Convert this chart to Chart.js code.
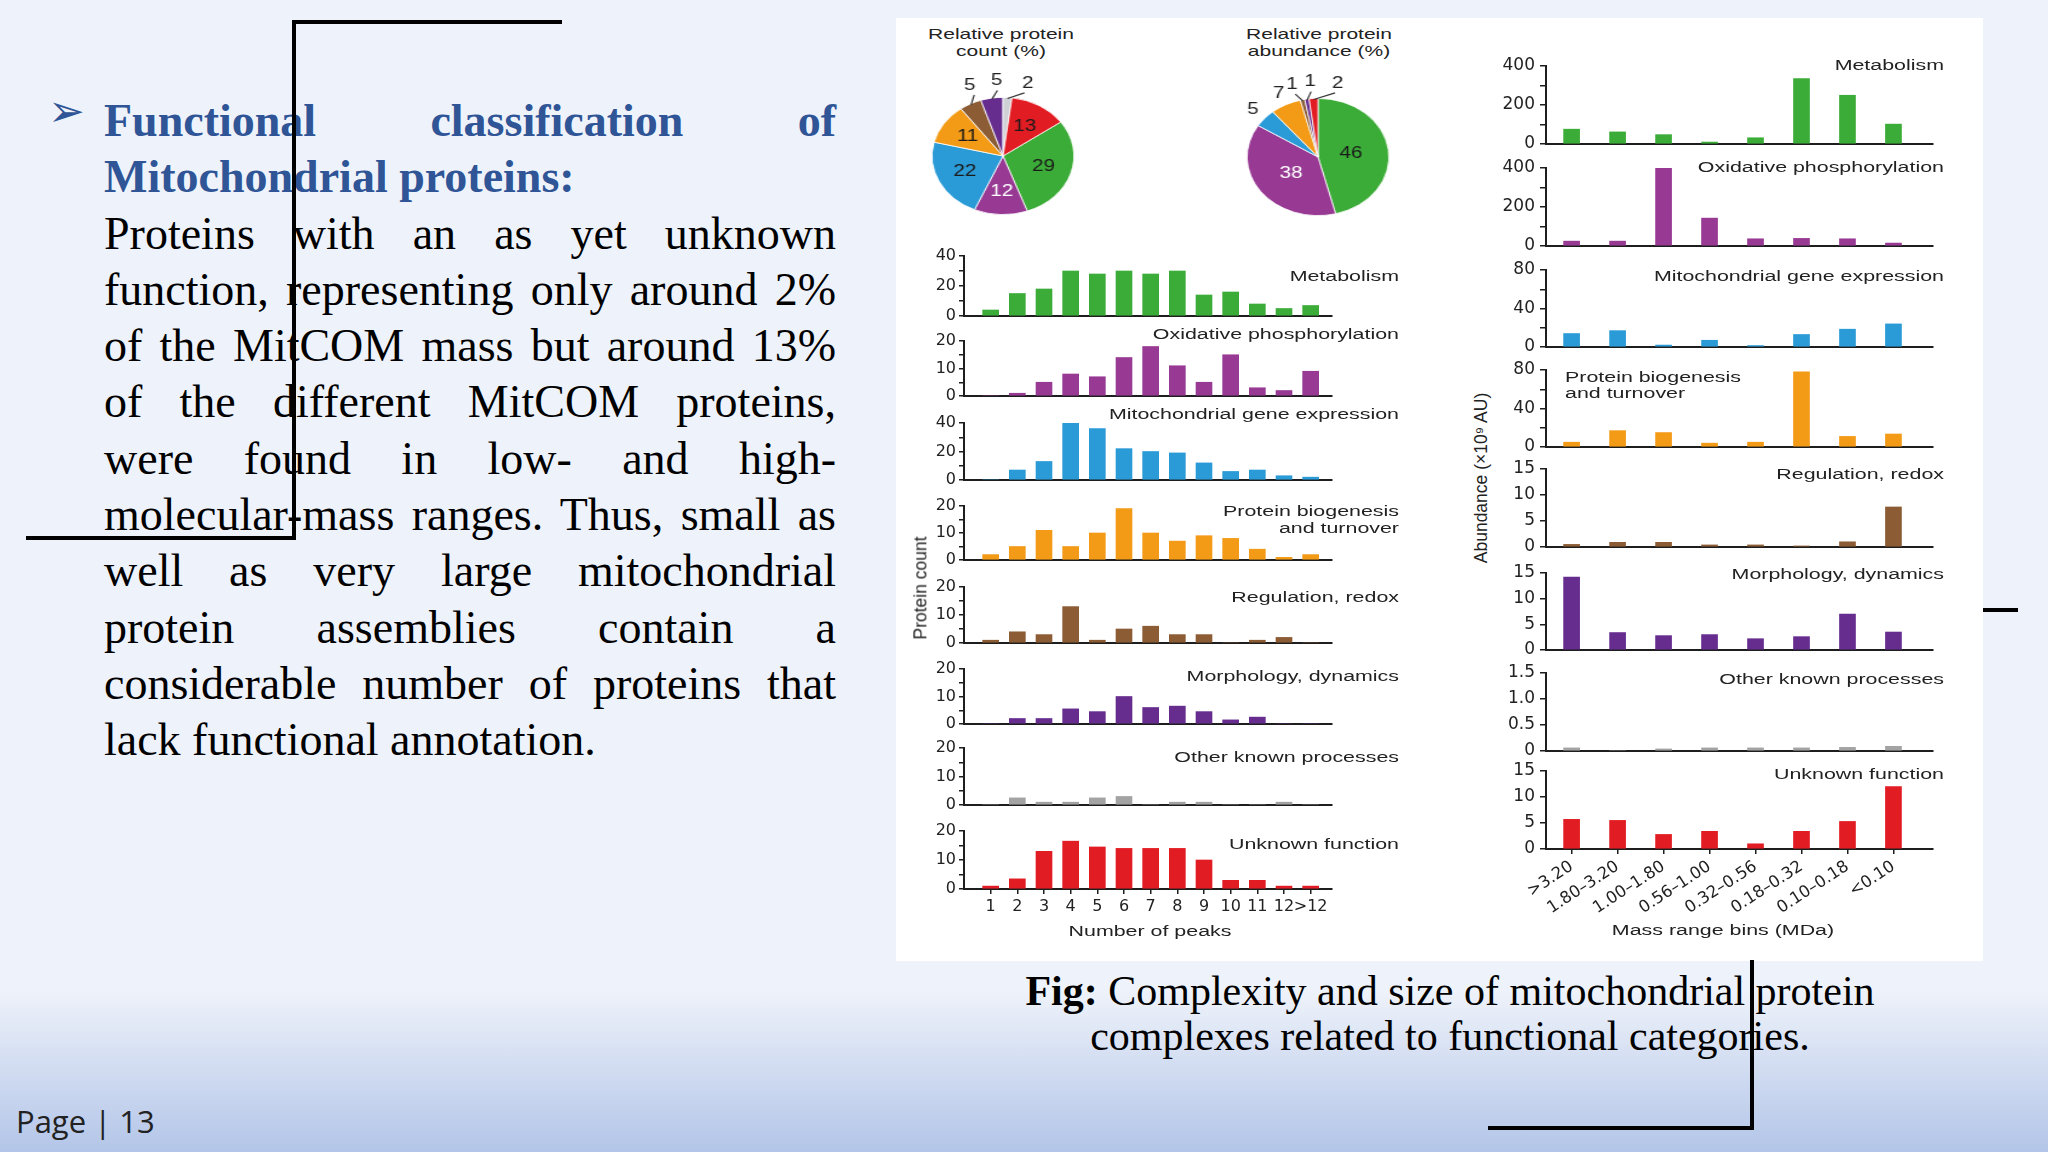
<!DOCTYPE html>
<html>
<head>
<meta charset="utf-8">
<script src="https://cdn.jsdelivr.net/npm/chart.js@4.4.1/dist/chart.umd.min.js"></script>
<style>
  html, body { margin: 0; padding: 0; }
  #stage {
    position: relative; width: 2048px; height: 1152px; overflow: hidden;
    background: linear-gradient(to bottom, #eef2fa 0%, #eef2fa 86%, #b3c5e8 100%);
  }
  #panel { position: absolute; left: 896px; top: 18px; width: 1087px; height: 943px; background: #fff; }
  #stage canvas { position: absolute; }
  .lbl { position: absolute; white-space: pre; font-family: "Liberation Sans", Arial, sans-serif; color: #222; }
  .body { position: absolute; left: 104px; top: 93px; width: 732px; font-family: "Liberation Serif", serif; font-size: 46px; line-height: 56.3px; color: #000; }
  .body div { white-space: nowrap; }
  .body .j { text-align: justify; text-align-last: justify; white-space: normal; }
  .body .h { color: #2f5597; font-weight: bold; }
  .rule { position: absolute; background: #000; z-index: 5; }
</style>
</head>
<body>
<div id="stage">
  <div id="panel"></div>

  <div style="position:absolute;left:48px;top:86px;font-family:'DejaVu Sans';font-size:44px;line-height:50px;color:#2f5597;">➢</div>
  <div class="body">
    <div class="j h">Functional classification of</div>
    <div class="h">Mitochondrial proteins:</div>
    <div class="j">Proteins with an as yet unknown</div>
    <div class="j">function, representing only around 2%</div>
    <div class="j">of the MitCOM mass but around 13%</div>
    <div class="j">of the different MitCOM proteins,</div>
    <div class="j">were found in low- and high-</div>
    <div class="j">molecular-mass ranges. Thus, small as</div>
    <div class="j">well as very large mitochondrial</div>
    <div class="j">protein assemblies contain a</div>
    <div class="j">considerable number of proteins that</div>
    <div>lack functional annotation.</div>
  </div>

  <div style="position:absolute;left:1000px;top:969px;width:900px;text-align:center;font-family:'Liberation Serif',serif;font-size:42px;line-height:45px;color:#000;">
    <div><b>Fig:</b> Complexity and size of mitochondrial protein</div>
    <div>complexes related to functional categories.</div>
  </div>

  <div style="position:absolute;left:16px;top:1106px;font-family:'Open Sans',sans-serif;font-size:31px;line-height:31px;color:#222;">Page | 13</div>

  <div class="rule" style="left:292px;top:20px;width:270px;height:4px;"></div>
  <div class="rule" style="left:292px;top:20px;width:4px;height:520px;"></div>
  <div class="rule" style="left:26px;top:536px;width:270px;height:4px;"></div>
  <div class="rule" style="left:1983px;top:608px;width:35px;height:4px;"></div>
  <div class="rule" style="left:1750px;top:960px;width:4px;height:170px;"></div>
  <div class="rule" style="left:1488px;top:1126px;width:266px;height:4px;"></div>
</div>

<script>
// ---- data ----
const peakLabels = ['1', '2', '3', '4', '5', '6', '7', '8', '9', '10', '11', '12', '>12'];
const massLabels = ['>3.20', '1.80–3.20', '1.00–1.80', '0.56–1.00', '0.32–0.56', '0.18–0.32', '0.10–0.18', '<0.10'];
const categories = ['Metabolism', 'Oxidative phosphorylation', 'Mitochondrial gene expression',
  'Protein biogenesis\nand turnover', 'Regulation, redox', 'Morphology, dynamics',
  'Other known processes', 'Unknown function'];

// relative protein count / abundance (%), same order as categories
const countShare = [29, 12, 22, 11, 5, 5, 2, 13];
const abundanceShare = [46, 38, 5, 7, 1, 1, 0, 2];

// protein count per number of peaks
const peaksMetabolism = [4, 15, 18, 30, 28, 30, 28, 30, 14, 16, 8, 5, 7];
const peaksOxphos = [0, 1, 5, 8, 7, 14, 18, 11, 5, 15, 3, 2, 9];
const peaksGeneExpr = [0, 7, 13, 40, 36, 22, 20, 19, 12, 6, 7, 3, 2];
const peaksBiogenesis = [2, 5, 11, 5, 10, 19, 10, 7, 9, 8, 4, 1, 2];
const peaksRegulation = [1, 4, 3, 13, 1, 5, 6, 3, 3, 0, 1, 2, 0];
const peaksMorphology = [0, 2, 2, 5.5, 4.5, 10, 6, 6.5, 4.5, 1.5, 2.5, 0, 0];
const peaksOther = [0, 2.5, 1, 1, 2.5, 3, 0, 1, 1, 0, 0, 1, 0];
const peaksUnknown = [1, 3.5, 13, 16.5, 14.5, 14, 14, 14, 10, 3, 3, 1, 1];

// abundance (x10^9 AU) per mass range bin
const massMetabolism = [76, 62, 48, 10, 32, 335, 250, 102];
const massOxphos = [25, 25, 412, 143, 37, 39, 37, 15];
const massGeneExpr = [14, 17, 2, 7, 1.5, 13, 18.5, 24];
const massBiogenesis = [5, 17, 15, 4, 5, 78, 11, 13.5];
const massRegulation = [0.5, 0.9, 0.9, 0.4, 0.4, 0.2, 1.0, 7.7];
const massMorphology = [14.2, 3.4, 2.8, 3.0, 2.2, 2.6, 7.0, 3.5];
const massOther = [0.06, 0, 0.04, 0.06, 0.06, 0.06, 0.07, 0.09];
const massUnknown = [5.7, 5.5, 2.8, 3.4, 1.0, 3.4, 5.3, 12.0];

// ---- styles ----
const catColors = ['#3cac38', '#983a94', '#2b9bd7', '#f39a17', '#8c5d35', '#662d8f', '#a3a3a3', '#e21c23'];
const pieColors = ['#3cac38', '#983a94', '#2b9bd7', '#f39a17', '#8c5d35', '#662d8f', '#cfcfd6', '#e21c23'];
const AXIS = '#1e1e1e';
const YW = 50;
const SX = 1.38;
const stage = document.getElementById('stage');

function label(text, x, y, align, size, opts = {}) {
  const d = document.createElement('div');
  d.className = 'lbl';
  d.textContent = text;
  d.style.left = x + 'px';
  d.style.top = y + 'px';
  d.style.fontSize = size + 'px';
  d.style.lineHeight = (opts.lh || size * 1.1) + 'px';
  d.style.textAlign = align;
  const sx = opts.sx === undefined ? SX : opts.sx;
  if (opts.rotate) {
    d.style.transform = 'translate(-50%,-50%) rotate(-90deg)';
  } else if (align === 'right') {
    d.style.transformOrigin = 'right center';
    d.style.transform = `translate(-100%,-50%) scaleX(${sx})`;
  } else if (align === 'left') {
    d.style.transformOrigin = 'left center';
    d.style.transform = `translate(0,-50%) scaleX(${sx})`;
  } else {
    d.style.transformOrigin = 'center center';
    d.style.transform = `translate(-50%,-50%) scaleX(${sx})`;
  }
  stage.appendChild(d);
}

function barChart(o) {
  const padTop = 10, padBottom = o.xLabels ? 0 : 9;
  const bottomH = o.xLabels ? o.bottomH : 0;
  const c = document.createElement('canvas');
  c.width = Math.round(o.right - o.axisX + YW + 3);
  c.height = Math.round(o.zero - o.top + padTop + padBottom + bottomH);
  c.style.left = (o.axisX - YW) + 'px';
  c.style.top = (o.top - padTop) + 'px';
  stage.appendChild(c);
  new Chart(c, {
    type: 'bar',
    data: {
      datasets: [{
        data: o.values.map((v, i) => ({ x: i + 1, y: v })),
        backgroundColor: o.color,
        borderWidth: 0,
        barThickness: o.barW
      }]
    },
    options: {
      responsive: false,
      animation: false,
      events: [],
      layout: { padding: { top: padTop, bottom: padBottom, left: 0, right: 3 } },
      plugins: { legend: { display: false }, tooltip: { enabled: false } },
      scales: {
        x: {
          type: 'linear', min: o.xMin, max: o.xMax, offset: false,
          // one tick per category, at the bar centres
          afterBuildTicks: s => { s.ticks = o.values.map((v, i) => ({ value: i + 1 })); },
          ticks: {
            display: !!o.xLabels, autoSkip: false,
            minRotation: o.rotate || 0, maxRotation: o.rotate || 0, padding: 3,
            color: '#222', font: { family: 'DejaVu Sans', size: o.xFont || 16 },
            callback: v => (o.xLabels ? o.xLabels[v - 1] : '')
          },
          grid: { display: !!o.xLabels, offset: false, drawOnChartArea: false, drawTicks: true, tickLength: 5, color: AXIS, lineWidth: 1.5 },
          border: { display: true, color: AXIS, width: 2 },
          afterFit: s => { s.height = bottomH; s.paddingLeft = 0; s.paddingRight = 0; }
        },
        y: {
          min: 0, max: o.yMax,
          ticks: {
            stepSize: o.yStep, autoSkip: false, padding: o.yPad || 3,
            color: '#222', font: { family: 'DejaVu Sans', size: o.yFont || 16 },
            callback: v => {
              const k = v / o.every;
              if (Math.abs(k - Math.round(k)) > 1e-6) return '';
              return o.fmt ? o.fmt(v) : String(v);
            }
          },
          grid: { drawOnChartArea: false, drawTicks: true, tickLength: o.yTick || 5, color: AXIS, lineWidth: 1.5 },
          border: { color: AXIS, width: 2 },
          afterFit: s => { s.width = YW; s.paddingTop = 0; s.paddingBottom = 0; }
        }
      }
    }
  });
}

// pie labels drawn from the arc elements
const pieLabels = {
  id: 'pieLabels',
  afterDatasetsDraw(chart, args, o) {
    const ctx = chart.ctx;
    const data = chart.data.datasets[0].data;
    chart.getDatasetMeta(0).data.forEach((arc, i) => {
      const v = data[i];
      if (!v) return;
      const p = arc.getProps(['x', 'y', 'startAngle', 'endAngle', 'outerRadius'], true);
      const mid = (p.startAngle + p.endAngle) / 2;
      ctx.save();
      ctx.font = '17px "Liberation Sans"';
      ctx.textAlign = 'center';
      ctx.textBaseline = 'middle';
      if (o.outside[i] !== undefined) {
        const a = mid + o.outside[i] * Math.PI / 180;
        if (o.leaders.includes(i)) {
          ctx.strokeStyle = '#333';
          ctx.lineWidth = 1.2;
          ctx.beginPath();
          ctx.moveTo(p.x + Math.cos(mid) * (p.outerRadius - 1), p.y + Math.sin(mid) * (p.outerRadius - 1));
          ctx.lineTo(p.x + Math.cos(a) * (p.outerRadius + 7), p.y + Math.sin(a) * (p.outerRadius + 7));
          ctx.stroke();
        }
        const r = p.outerRadius + (o.leaders.includes(i) ? 17 : 13);
        ctx.fillStyle = '#222';
        ctx.fillText(v, p.x + Math.cos(a) * r, p.y + Math.sin(a) * r);
      } else {
        const r = p.outerRadius * o.inside;
        ctx.fillStyle = o.light.includes(i) ? '#fff' : '#1a1a1a';
        ctx.fillText(v, p.x + Math.cos(mid) * r, p.y + Math.sin(mid) * r);
      }
      ctx.restore();
    });
  }
};

function pieChart(values, cx, cy, rotation, labelOpts) {
  const c = document.createElement('canvas');
  c.width = 180; c.height = 180;
  c.style.left = (cx - 90) + 'px';
  c.style.top = (cy - 90) + 'px';
  c.style.transformOrigin = 'center center';
  c.style.transform = 'scaleX(1.21)';
  stage.appendChild(c);
  new Chart(c, {
    type: 'pie',
    data: {
      labels: categories,
      datasets: [{ data: values, backgroundColor: pieColors, borderColor: '#fff', borderWidth: 0.8 }]
    },
    options: {
      responsive: false, animation: false, events: [],
      rotation: rotation,
      layout: { padding: 31 },
      plugins: { legend: { display: false }, tooltip: { enabled: false }, pieLabels: labelOpts }
    },
    plugins: [pieLabels]
  });
}

// ---- pies ----
const countTotal = countShare.reduce((a, b) => a + b, 0);
pieChart(countShare, 1003, 156, (countShare[6] + countShare[7]) / countTotal * 360,
  { inside: 0.6, light: [1], outside: { 4: 6, 5: 5, 6: 12 }, leaders: [4, 5, 6] });
pieChart(abundanceShare, 1318, 157, 0,
  { inside: 0.47, light: [1], outside: { 2: 0, 3: 0, 4: -4, 5: 4, 7: 16 }, leaders: [4, 5, 7] });

label('Relative protein\ncount (%)', 1001, 43, 'center', 15, { lh: 16.6, sx: 1.4 });
label('Relative protein\nabundance (%)', 1319, 43, 'center', 15, { lh: 16.6, sx: 1.4 });

// ---- left column: protein count vs number of peaks ----
const leftSeries = [peaksMetabolism, peaksOxphos, peaksGeneExpr, peaksBiogenesis, peaksRegulation, peaksMorphology, peaksOther, peaksUnknown];
const leftBoxes = [[255.7, 315.7, 40], [340.7, 395.7, 20], [423.3, 480.7, 40], [505.7, 559.7, 20],
  [586.7, 642.3, 20], [669, 724.3, 20], [748.3, 805, 20], [831, 888.7, 20]];
const leftTitleY = [275, 333, 413, 518.5, 596, 675, 756, 843];
leftSeries.forEach((vals, i) => {
  const [top, zero, yMax] = leftBoxes[i];
  const last = i === leftSeries.length - 1;
  barChart({
    values: vals, color: catColors[i], axisX: 964.3, right: 1332.7, top, zero,
    xMin: 0, xMax: 13.8, barW: 16, yMax, yStep: yMax / 4, every: yMax / 2,
    xLabels: last ? peakLabels : null, bottomH: 30
  });
  label(categories[i], 1399, leftTitleY[i], 'right', 15.5, { lh: 17 });
});
label('Number of peaks', 1150, 931, 'center', 15.5);
label('Protein count', 921, 588, 'center', 17.5, { rotate: true });

// ---- right column: abundance vs mass range bins ----
const rightSeries = [massMetabolism, massOxphos, massGeneExpr, massBiogenesis, massRegulation, massMorphology, massOther, massUnknown];
const rightBoxes = [[66.3, 144.7, 400, 100, 200], [168, 246.3, 400, 100, 200], [269.7, 346.7, 80, 20, 40],
  [370, 447.3, 80, 20, 40], [469, 546.7, 15, 5, 5], [573.3, 650, 15, 5, 5],
  [672.7, 750.7, 1.5, 0.5, 0.5], [771, 848.7, 15, 5, 5]];
const rightTitleY = [64, 166, 275, 385, 473, 573, 678, 773];
rightSeries.forEach((vals, i) => {
  const [top, zero, yMax, yStep, every] = rightBoxes[i];
  const last = i === rightSeries.length - 1;
  barChart({
    values: vals, color: catColors[i], axisX: 1546, right: 1933, top, zero,
    xMin: 0.443, xMax: 8.86, barW: 16, yMax, yStep, every,
    fmt: yMax < 2 ? (v => (v === 0 ? '0' : v.toFixed(1))) : null,
    yFont: 17, yTick: 6, yPad: 5,
    xLabels: last ? massLabels : null, rotate: 33, xFont: 16.5, bottomH: 80
  });
  if (i === 3) label(categories[i], 1565, rightTitleY[i], 'left', 15.5, { lh: 16 });
  else label(categories[i], 1944, rightTitleY[i], 'right', 15.5, { lh: 17 });
});
label('Mass range bins (MDa)', 1723, 930, 'center', 15.5);
label('Abundance (×10⁹ AU)', 1482, 478, 'center', 17.5, { rotate: true });
</script>
</body>
</html>
